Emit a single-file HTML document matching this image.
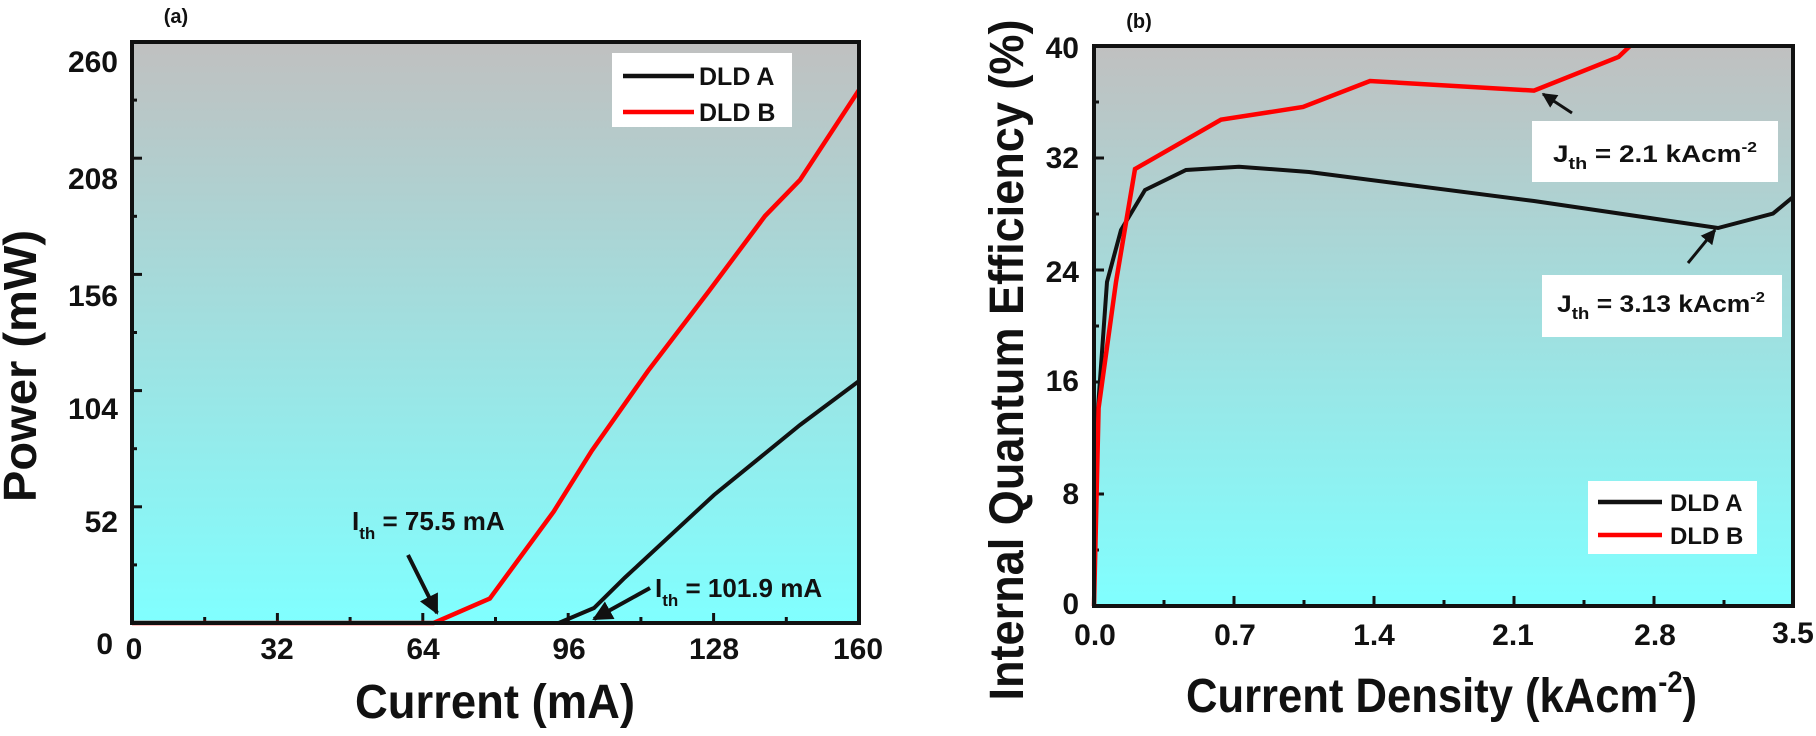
<!DOCTYPE html>
<html><head><meta charset="utf-8"><style>
html,body{margin:0;padding:0;background:#fff;}
svg{display:block;}
text{font-family:"Liberation Sans",Arial,sans-serif;font-weight:bold;fill:#111;}
</style></head><body>
<svg width="1816" height="736" viewBox="0 0 1816 736" xmlns="http://www.w3.org/2000/svg">
<defs>
<linearGradient id="g" x1="0" y1="0" x2="0" y2="1">
<stop offset="0" stop-color="#c0c0c0"/><stop offset="1" stop-color="#80ffff"/>
</linearGradient>
<marker id="ah" viewBox="0 0 10 10" refX="9" refY="5" markerWidth="5" markerHeight="5" orient="auto"><path d="M0,0 L10,5 L0,10 z" fill="#111"/></marker>
</defs>

<!-- Panel A -->
<rect x="132" y="42" width="727" height="581" fill="url(#g)"/>
<g stroke="#111" stroke-width="3">
<line x1="132" y1="623" x2="132" y2="613"/><line x1="204.7" y1="623" x2="204.7" y2="617"/>
<line x1="277.4" y1="623" x2="277.4" y2="613"/><line x1="350.1" y1="623" x2="350.1" y2="617"/>
<line x1="422.8" y1="623" x2="422.8" y2="613"/><line x1="495.5" y1="623" x2="495.5" y2="617"/>
<line x1="568.2" y1="623" x2="568.2" y2="613"/><line x1="640.9" y1="623" x2="640.9" y2="617"/>
<line x1="713.6" y1="623" x2="713.6" y2="613"/><line x1="786.3" y1="623" x2="786.3" y2="617"/>
<line x1="132" y1="158.2" x2="142" y2="158.2"/><line x1="132" y1="274.4" x2="142" y2="274.4"/>
<line x1="132" y1="390.6" x2="142" y2="390.6"/><line x1="132" y1="506.8" x2="142" y2="506.8"/>
<line x1="132" y1="100.1" x2="137" y2="100.1"/><line x1="132" y1="216.3" x2="137" y2="216.3"/>
<line x1="132" y1="332.5" x2="137" y2="332.5"/><line x1="132" y1="448.7" x2="137" y2="448.7"/>
<line x1="132" y1="564.9" x2="137" y2="564.9"/>
</g>
<polyline fill="none" stroke="#111" stroke-width="4" points="132,623 558.7,623 594,608 625,577.5 714,495 800,425 859,381"/>
<polyline fill="none" stroke="#f00" stroke-width="4.5" points="132,623 433.7,623 489.8,598.6 553.6,511.7 591.8,450.7 648,370.9 709,291 765,216 800,180 859,90"/>
<rect x="132" y="42" width="727" height="581" fill="none" stroke="#111" stroke-width="4"/>
<rect x="612" y="53" width="180" height="74" fill="#fff"/>
<line x1="623" y1="76" x2="694" y2="76" stroke="#111" stroke-width="4.5"/>
<line x1="623" y1="112" x2="694" y2="112" stroke="#f00" stroke-width="4.5"/>
<text x="699" y="85" font-size="25">DLD A</text>
<text x="699" y="121" font-size="25">DLD B</text>
<g font-size="30" text-anchor="end">
<text x="118" y="72">260</text><text x="118" y="189">208</text><text x="118" y="306">156</text>
<text x="118" y="419">104</text><text x="118" y="532">52</text>
</g>
<text x="113" y="654" font-size="30" text-anchor="end">0</text>
<g font-size="30" text-anchor="middle">
<text x="134" y="659">0</text><text x="277" y="659">32</text><text x="423" y="659">64</text>
<text x="569" y="659">96</text><text x="714" y="659">128</text><text x="858" y="659">160</text>
</g>
<text x="176" y="23" font-size="20" text-anchor="middle">(a)</text>
<text x="355" y="718" font-size="48" textLength="280" lengthAdjust="spacingAndGlyphs">Current (mA)</text>
<text transform="translate(36,366) rotate(-90)" font-size="46" text-anchor="middle" textLength="272" lengthAdjust="spacingAndGlyphs">Power (mW)</text>
<text x="352" y="530" font-size="26">I<tspan font-size="17" dy="9">th</tspan><tspan dy="-9"> = 75.5 mA</tspan></text>
<line x1="408" y1="555" x2="437" y2="613" stroke="#111" stroke-width="4" marker-end="url(#ah)"/>
<text x="655" y="597" font-size="26">I<tspan font-size="17" dy="9">th</tspan><tspan dy="-9"> = 101.9 mA</tspan></text>
<line x1="650" y1="588" x2="594" y2="619" stroke="#111" stroke-width="4" marker-end="url(#ah)"/>

<!-- Panel B -->
<rect x="1094" y="46" width="699" height="560" fill="url(#g)"/>
<g stroke="#111" stroke-width="3">
<line x1="1164" y1="606" x2="1164" y2="600"/><line x1="1234" y1="606" x2="1234" y2="596"/>
<line x1="1304" y1="606" x2="1304" y2="600"/><line x1="1374" y1="606" x2="1374" y2="596"/>
<line x1="1444" y1="606" x2="1444" y2="600"/><line x1="1514" y1="606" x2="1514" y2="596"/>
<line x1="1584" y1="606" x2="1584" y2="600"/><line x1="1654" y1="606" x2="1654" y2="596"/>
<line x1="1724" y1="606" x2="1724" y2="600"/>
<line x1="1094" y1="494" x2="1104" y2="494"/><line x1="1094" y1="382" x2="1104" y2="382"/>
<line x1="1094" y1="270" x2="1104" y2="270"/><line x1="1094" y1="158" x2="1104" y2="158"/>
<line x1="1094" y1="550" x2="1099" y2="550"/><line x1="1094" y1="438" x2="1099" y2="438"/>
<line x1="1094" y1="326" x2="1099" y2="326"/><line x1="1094" y1="214" x2="1099" y2="214"/>
<line x1="1094" y1="102" x2="1099" y2="102"/>
</g>
<polyline fill="none" stroke="#111" stroke-width="4" points="1094,606 1097,422 1107,282 1121,230 1145,190 1186,170 1239,166.7 1309,172 1534,201 1718,228 1773,213.6 1793,197"/>
<polyline fill="none" stroke="#f00" stroke-width="4.5" points="1094,606 1098.6,408 1116,282 1135,169 1221,119.7 1303,107 1370,81 1534,90.6 1618.5,57 1630,46"/>
<rect x="1094" y="46" width="699" height="560" fill="none" stroke="#111" stroke-width="4"/>
<rect x="1532" y="121" width="246" height="61" fill="#fff"/>
<text x="1553" y="162" font-size="24" textLength="204" lengthAdjust="spacingAndGlyphs">J<tspan font-size="17" dy="7">th</tspan><tspan dy="-7"> = 2.1 kAcm</tspan><tspan font-size="15" dy="-10">-2</tspan></text>
<line x1="1572" y1="113" x2="1543" y2="94" stroke="#111" stroke-width="3" marker-end="url(#ah)"/>
<rect x="1542" y="275" width="240" height="62" fill="#fff"/>
<text x="1557" y="312" font-size="24" textLength="208" lengthAdjust="spacingAndGlyphs">J<tspan font-size="17" dy="7">th</tspan><tspan dy="-7"> = 3.13 kAcm</tspan><tspan font-size="15" dy="-10">-2</tspan></text>
<line x1="1688" y1="263" x2="1715" y2="230" stroke="#111" stroke-width="3" marker-end="url(#ah)"/>
<rect x="1588" y="481" width="169" height="73" fill="#fff"/>
<line x1="1598" y1="502" x2="1662" y2="502" stroke="#111" stroke-width="4.5"/>
<line x1="1598" y1="535" x2="1662" y2="535" stroke="#f00" stroke-width="4.5"/>
<text x="1670" y="511" font-size="24">DLD A</text>
<text x="1670" y="544" font-size="24">DLD B</text>
<g font-size="30" text-anchor="end">
<text x="1079" y="58">40</text><text x="1079" y="168">32</text><text x="1079" y="282">24</text>
<text x="1079" y="391">16</text><text x="1079" y="504">8</text><text x="1079" y="614">0</text>
</g>
<g font-size="30" text-anchor="middle">
<text x="1095" y="645">0.0</text><text x="1235" y="645">0.7</text><text x="1374" y="645">1.4</text>
<text x="1513" y="645">2.1</text><text x="1655" y="645">2.8</text><text x="1793" y="643">3.5</text>
</g>
<text x="1139" y="28" font-size="20" text-anchor="middle">(b)</text>
<text x="1186" y="712" font-size="48" textLength="511" lengthAdjust="spacingAndGlyphs">Current Density (kAcm<tspan font-size="30" dy="-20">-2</tspan><tspan dy="20">)</tspan></text>
<text transform="translate(1023,360) rotate(-90)" font-size="48" text-anchor="middle" textLength="681" lengthAdjust="spacingAndGlyphs">Internal Quantum Efficiency (%)</text>
</svg>
</body></html>
